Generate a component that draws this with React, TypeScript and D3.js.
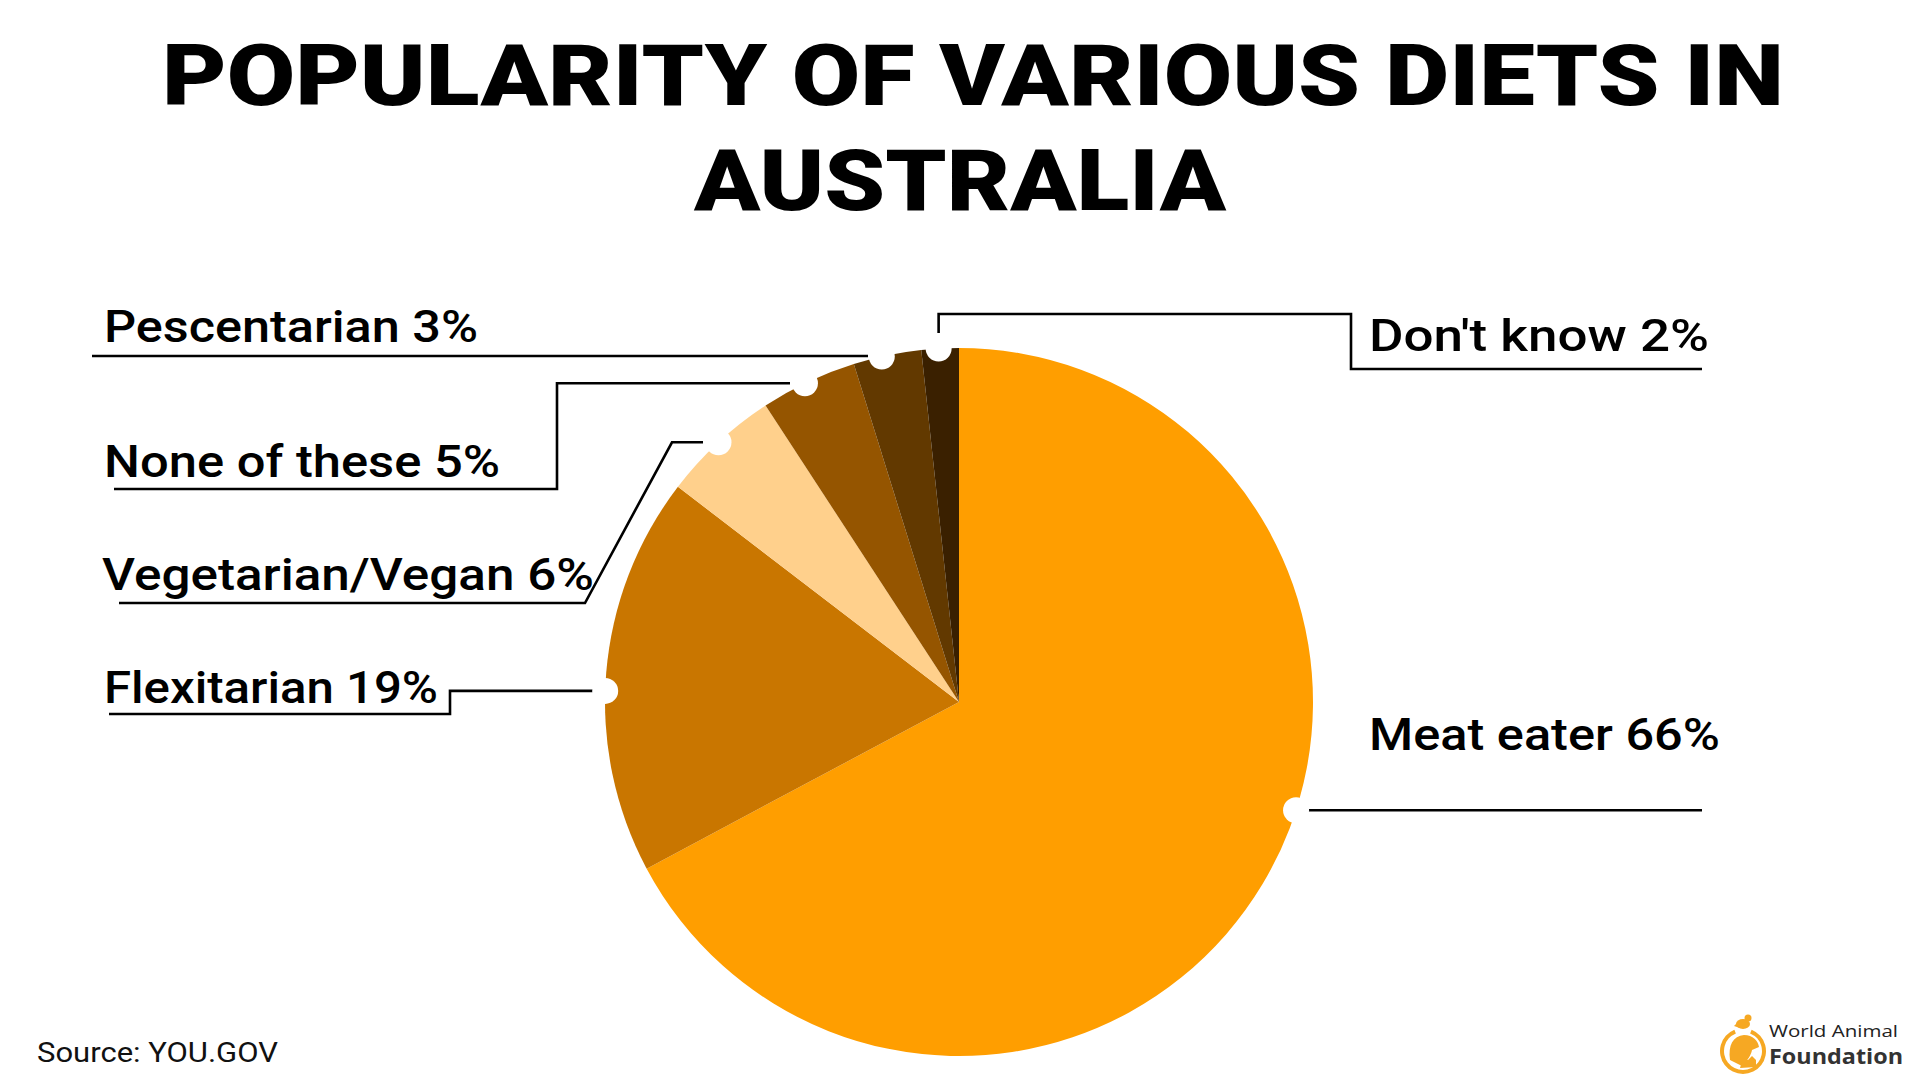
import React from "react";
import * as d3 from "d3";

const categories = ["Meat eater", "Flexitarian", "Vegetarian/Vegan", "None of these", "Pescentarian", "Don't know"];
// percentages printed on the labels
const labelPercents = [66, 19, 6, 5, 3, 2];
// slice shares as drawn in the picture
const sliceShares = [67.2, 18.2, 5.4, 4.4, 3.1, 1.7];
const sliceColors = ["#FF9E00", "#C97600", "#FFD08C", "#955500", "#623900", "#3A2000"];
const titleLines = ["POPULARITY OF VARIOUS DIETS IN", "AUSTRALIA"];
const sourceText = "Source: YOU.GOV";

// label layout (annotation geometry, not data)
const labelLayout = [
  { anchorDeg: 107.8, text: [1369, 750, 351], path: [[1308, null], [1702, null]] },
  { anchorDeg: 271.8, text: [104, 703, 334], path: [[593, null], [450, null], [450, 714], [109, 714]] },
  { anchorDeg: 317.2, text: [102, 590, 492], path: [[703, null], [672, null], [585, 603], [119, 603]] },
  { anchorDeg: 334.2, text: [104, 477, 396], path: [[790, null], [557, null], [557, 489], [114, 489]] },
  { anchorDeg: 347.4, text: [104, 342, 374], path: [[868, 356], [92, 356]] },
  { anchorDeg: 356.7, text: [1369, 351, 340], path: [["dx", 333], ["dx", 314], [1351, 314], [1351, 369], [1702, 369]] },
];

const CX = 959;
const CY = 702;
const R = 354;
const FONT = "Roboto, 'DejaVu Sans', sans-serif";

export default function App() {
  const pie = d3.pie<number>().sort(null).value((d) => d);
  const arcs = pie(sliceShares);
  const arcGen = d3.arc<d3.PieArcDatum<number>>().innerRadius(0).outerRadius(R);
  const angleScale = d3.scaleLinear().domain([0, 360]).range([0, 2 * Math.PI]);

  const dots = labelLayout.map((l) => {
    const a = angleScale(l.anchorDeg);
    return [CX + R * Math.sin(a), CY - R * Math.cos(a)];
  });

  const line = d3.line();

  return (
    <svg width={1920} height={1080} style={{ position: "absolute", left: 0, top: 0, background: "#fff" }}>
      <rect x={0} y={0} width={1920} height={1080} fill="#fff" />
      {titleLines.map((t, i) => (
        <text
          key={t}
          x={i === 0 ? 162 : 694}
          y={i === 0 ? 105 : 210}
          textLength={i === 0 ? 1622 : 532}
          lengthAdjust="spacingAndGlyphs"
          fontFamily={FONT}
          fontWeight={900}
          fontSize={86}
          fill="#000"
        >
          {t}
        </text>
      ))}

      <g transform={`translate(${CX},${CY})`}>
        {arcs.map((a, i) => (
          <path key={categories[i]} d={arcGen(a) || ""} fill={sliceColors[i]} />
        ))}
      </g>

      {labelLayout.map((l, i) => {
        const [dx, dy] = dots[i];
        const pts = l.path.map(([x, y]) => [x === "dx" ? dx : (x as number), y === null ? dy : (y as number)]) as [number, number][];
        return (
          <path key={"l" + i} d={line(pts) || ""} fill="none" stroke="#000" strokeWidth={2.6} />
        );
      })}

      {dots.map(([x, y], i) => (
        <circle key={"d" + i} cx={x} cy={y} r={13} fill="#fff" />
      ))}

      {labelLayout.map((l, i) => (
        <text
          key={"t" + i}
          x={l.text[0]}
          y={l.text[1]}
          textLength={l.text[2]}
          lengthAdjust="spacingAndGlyphs"
          fontFamily={FONT}
          fontWeight={500}
          fontSize={44}
          fill="#000"
        >
          {`${categories[i]} ${labelPercents[i]}%`}
        </text>
      ))}

      <text x={37} y={1062} textLength={241} lengthAdjust="spacingAndGlyphs" fontFamily={FONT} fontWeight={400} fontSize={28} fill="#111">
        {sourceText}
      </text>

      <g>
        <path
          d={d3.arc()({ innerRadius: 19, outerRadius: 23, startAngle: angleScale(22), endAngle: angleScale(338) }) || ""}
          transform="translate(1743,1051)"
          fill="#F6A823"
        />
        <ellipse cx={1743} cy={1024} rx={7} ry={5} fill="#F6A823" />
        <circle cx={1748} cy={1018} r={3.5} fill="#F6A823" />
        <path d="M1734,1026 L1738,1022 L1740,1028 Z" fill="#F6A823" />
        <path d="M1730,1060 C1728,1045 1733,1036 1744,1035 C1753,1035 1758,1041 1759,1047 L1752,1050 C1751,1055 1748,1060 1742,1066 Z" fill="#F6A823" />
        <path d="M1740,1068 L1743,1058 L1748,1060 L1752,1056 L1756,1060 L1756,1067 Z" fill="#F6A823" />
        <text x={1769} y={1037} fontFamily="'Open Sans', sans-serif" fontSize={17} fill="#222" textLength={129} lengthAdjust="spacingAndGlyphs">
          World Animal
        </text>
        <text x={1769} y={1064} fontFamily="'Open Sans', sans-serif" fontWeight={700} fontSize={21} fill="#333" textLength={134} lengthAdjust="spacingAndGlyphs">
          Foundation
        </text>
      </g>
    </svg>
  );
}
